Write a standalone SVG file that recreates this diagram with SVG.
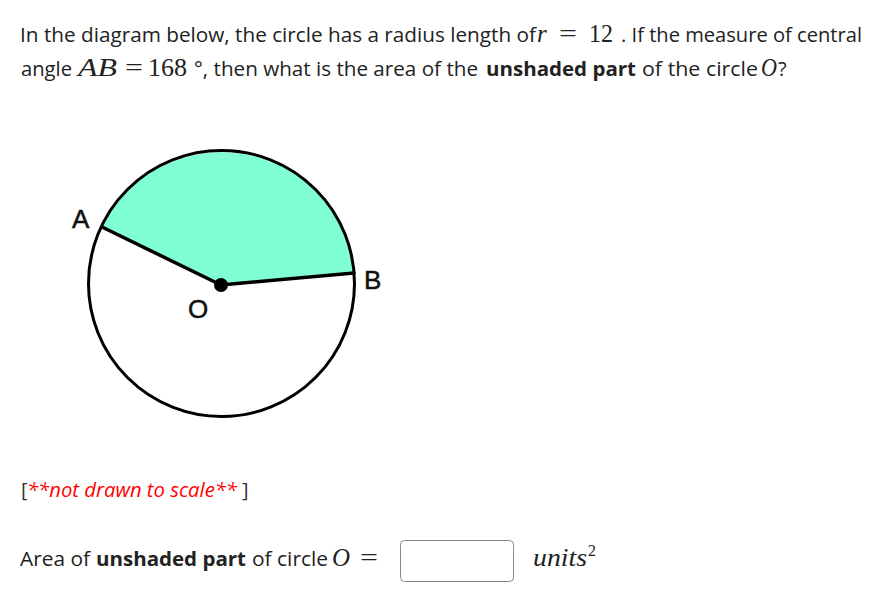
<svg xmlns="http://www.w3.org/2000/svg" width="892" height="591" viewBox="0 0 892 591">
<style>
.t{font-family:"Open Sans","Noto Sans","Liberation Sans",sans-serif;font-size:20px;fill:#222}
.b{font-weight:bold}
.m{font-family:"Liberation Serif","DejaVu Serif",serif;font-size:25px;fill:#222}
.sup{font-size:16px}
.i{font-style:italic}
.red{fill:#ff0000;font-style:italic}
.hand{font-family:"Liberation Sans","DejaVu Sans",sans-serif;font-size:26px;fill:#111;stroke:#111;stroke-width:0.5}
.ln{stroke:#000;stroke-width:3.5;fill:none;stroke-linecap:round}
</style>
<rect width="892" height="591" fill="#fff"/>
<g id="question">
<text class="t" y="42"><tspan x="20" textLength="516" lengthAdjust="spacingAndGlyphs">In the diagram below, the circle has a radius length of</tspan></text>
<text class="m i" x="537" y="42">r</text>
<text class="m" x="559" y="42" textLength="18" lengthAdjust="spacingAndGlyphs">=</text>
<text class="m" x="589" y="42" textLength="24" lengthAdjust="spacingAndGlyphs">12</text>
<text class="t" y="42"><tspan x="621" textLength="241" lengthAdjust="spacingAndGlyphs">. If the measure of central</tspan></text>
<text class="t" y="76"><tspan x="21" textLength="51" lengthAdjust="spacingAndGlyphs">angle</tspan></text>
<text class="m i" x="78" y="76" textLength="39" lengthAdjust="spacingAndGlyphs">AB</text>
<text class="m" x="125" y="76" textLength="18" lengthAdjust="spacingAndGlyphs">=</text>
<text class="m" x="148" y="76" textLength="39" lengthAdjust="spacingAndGlyphs">168</text>
<text class="t" y="76"><tspan x="194" textLength="284" lengthAdjust="spacingAndGlyphs">°, then what is the area of the</tspan></text>
<text class="t b" y="76"><tspan x="486" textLength="150" lengthAdjust="spacingAndGlyphs">unshaded part</tspan></text>
<text class="t" y="76"><tspan x="642" textLength="116" lengthAdjust="spacingAndGlyphs">of the circle</tspan></text>
<text class="m i" x="761" y="76" textLength="16" lengthAdjust="spacingAndGlyphs">O</text>
<text class="t" x="778" y="76">?</text>
</g>
<g id="circle-O">
<path d="M221,285 L102,227 A133,133 0 0 1 354,273 Z" fill="#80ffd4"/>
<circle cx="221.5" cy="283.5" r="133" fill="none" stroke="#000" stroke-width="3"/>
</g>
<g id="connectors">
<line class="ln" x1="102" y1="227" x2="221" y2="285"/>
<line class="ln" x1="221" y1="285" x2="354" y2="273"/>
</g>
<g id="point-O">
<circle cx="221" cy="285" r="7" fill="#000"/>
<text class="hand" x="188" y="318">O</text>
</g>
<g id="point-A">
<text class="hand" x="72" y="228">A</text>
</g>
<g id="point-B">
<text class="hand" x="364" y="289">B</text>
</g>
<g id="note">
<text class="t" y="497"><tspan x="21" fill="#333">[</tspan><tspan class="red" x="27" textLength="210" lengthAdjust="spacingAndGlyphs">**not drawn to scale**</tspan><tspan x="242" fill="#333">]</tspan></text>
</g>
<g id="answer">
<text class="t" y="566"><tspan x="20" textLength="70" lengthAdjust="spacingAndGlyphs">Area of</tspan></text>
<text class="t b" y="566"><tspan x="96" textLength="150" lengthAdjust="spacingAndGlyphs">unshaded part</tspan></text>
<text class="t" y="566"><tspan x="252" textLength="76" lengthAdjust="spacingAndGlyphs">of circle</tspan></text>
<text class="m i" x="332" y="566">O</text>
<text class="m" x="360" y="566" textLength="18" lengthAdjust="spacingAndGlyphs">=</text>
<rect x="400.5" y="540.5" width="113" height="41" rx="4" fill="#fff" stroke="#888" stroke-width="1"/>
<text class="m i" x="533" y="566" textLength="54" lengthAdjust="spacingAndGlyphs">units</text>
<text class="m sup" x="588" y="556">2</text>
</g>
</svg>
